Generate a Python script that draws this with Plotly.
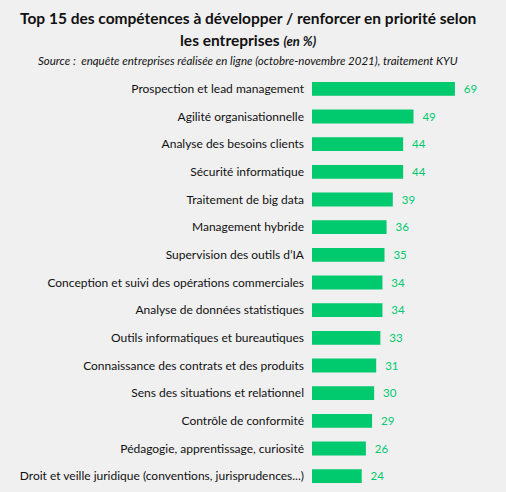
import plotly.graph_objects as go

categories = [
    "Prospection et lead management",
    "Agilité organisationnelle",
    "Analyse des besoins clients",
    "Sécurité informatique",
    "Traitement de big data",
    "Management hybride",
    "Supervision des outils d’IA",
    "Conception et suivi des opérations commerciales",
    "Analyse de données statistiques",
    "Outils informatiques et bureautiques",
    "Connaissance des contrats et des produits",
    "Sens des situations et relationnel",
    "Contrôle de conformité",
    "Pédagogie, apprentissage, curiosité",
    "Droit et veille juridique (conventions, jurisprudences...)",
]
values = [69, 49, 44, 44, 39, 36, 35, 34, 34, 33, 31, 30, 29, 26, 24]

title_line1 = "Top 15 des compétences à développer / renforcer en priorité selon"
title_line2 = "les entreprises <i><span style='font-size:13px'>(en %)</span></i>"
source_text = "Source :  enquête entreprises réalisée en ligne (octobre-novembre 2021), traitement KYU"

GREEN = "#00c96e"
FONT = "Lato"
W, H = 506, 492
L, R, T = 312, 20, 75
CX = (248 - L) / (W - L - R)

fig = go.Figure(go.Bar(
    x=values,
    y=categories,
    orientation="h",
    marker=dict(color=GREEN, line=dict(width=0)),
    text=values,
    texttemplate="  %{x}",
    textposition="outside",
    textfont=dict(color=GREEN, size=12.5, family=FONT),
    cliponaxis=False,
))

def ann(text, shift, size):
    return dict(text=text, xref="paper", yref="paper", x=CX, y=1,
                xanchor="center", yanchor="middle", yshift=shift, showarrow=False,
                font=dict(size=size, family=FONT, color="#111111"))

fig.update_layout(
    width=W, height=H,
    paper_bgcolor="#f0f0f0", plot_bgcolor="#f0f0f0",
    margin=dict(l=L, r=R, t=T, b=2),
    bargap=0.5,
    showlegend=False,
    font=dict(family=FONT, color="#111111", size=12),
    annotations=[
        ann("<b>" + title_line1 + "</b>", T - 18, 15.5),
        ann("<b>" + title_line2 + "</b>", T - 40, 15.5),
        ann("<i>" + source_text + "</i>", T - 60, 11.5),
    ],
)
fig.update_xaxes(range=[0, 84], visible=False)
fig.update_yaxes(autorange="reversed", showline=False, showgrid=False, ticks="",
                 automargin=False,
                 ticklabelstandoff=7, tickfont=dict(size=12, family=FONT, color="#111111"))

fig.write_html("out.html", config={"displayModeBar": False},
               post_script="document.body.style.margin='0';")
